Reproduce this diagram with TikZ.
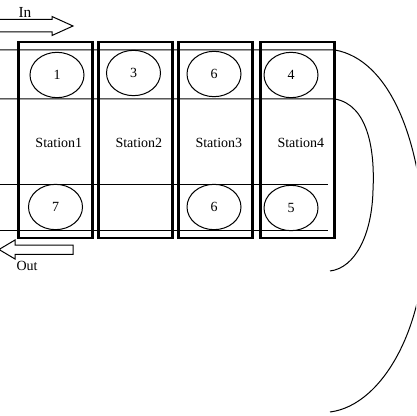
\documentclass[tikz,border=0pt]{standalone}
\usepackage{fontspec}
\setmainfont{Liberation Serif}
\usetikzlibrary{shapes.geometric}
\tikzset{
  every picture/.style={line join=miter, line cap=butt},
  thinline/.style={line width=0.75pt},
  stationbox/.style={draw, line width=1.6pt, minimum width=55.5pt, minimum height=147pt, inner sep=0pt},
  job/.style={draw, ellipse, line width=0.75pt, minimum width=40.5pt, minimum height=34pt, inner sep=0pt, font=\fontsize{10.5}{12}\selectfont},
  lbl/.style={inner sep=0pt, font=\fontsize{10.5}{12}\selectfont},
}
\begin{document}
\begin{tikzpicture}[x=0.75pt,y=-0.75pt]
\useasboundingbox (0,0) rectangle (416,416);
\clip (0,0) rectangle (416,416);
% stations
\foreach \n/\x in {1/55.5,2/135.5,3/215.5,4/297.5}{
  \node[stationbox] (s\n) at (\x,140) {};
  \node[lbl] (l\n) at ([xshift=2.5pt,yshift=-2.5pt]s\n.center) {Station\n};
}
% jobs
\foreach \name/\x/\y/\t in {a/57/75/1,b/133.5/73/3,c/214/74/6,d/291/75/4,e/55.5/207/7,f/214/207/6,g/291/208/5}
  \node[job] (\name) at (\x,\y) {\t};
% rails and returns
\coordinate (r1) at (335,50);
\coordinate (r2) at (335,99);
\coordinate (e1) at (330,412);
\coordinate (e2) at (330,271);
\draw[thinline] (0,50) -- (r1) .. controls (390,60) and (420,140) .. (424,230) .. controls (428,320) and (385,405) .. (e1);
\draw[thinline] (0,99) -- (r2) .. controls (368,105) and (375,150) .. (373,190) .. controls (372,235) and (355,268) .. (e2);
\draw[thinline] (0,185) -- (328,185);
\draw[thinline] (0,230) -- (328,230);
% in / out
\draw[thinline] (0,19.5) -- (52,19.5) -- (52,16.5) -- (73,26) -- (52,35.5) -- (52,32) -- (0,32);
\node[lbl, font=\fontsize{11.5}{13}\selectfont] (in) at (25,12) {In};
\draw[thinline] (73,245) -- (15,245) -- (15,240) -- (-1,249.5) -- (15,259) -- (15,254.3) -- (73,254.3) -- cycle;
\node[lbl] (out) at (27,266) {Out};
\end{tikzpicture}
\end{document}
